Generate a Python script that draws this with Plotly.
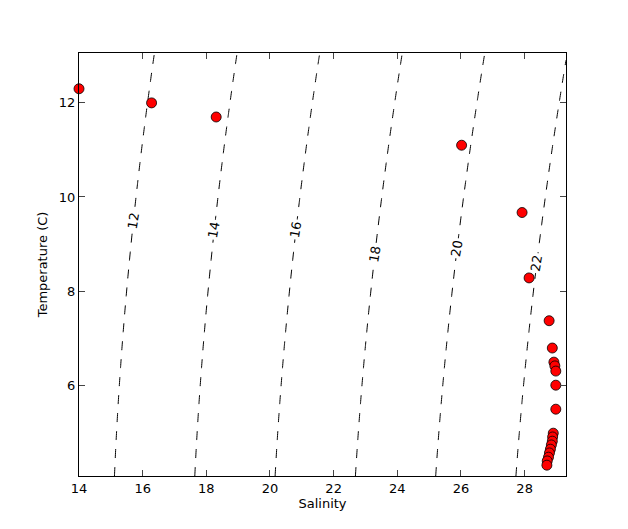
import numpy as np
import plotly.graph_objects as go

# observed profile
salinity = [14.0, 16.28, 18.31, 26.02, 27.92, 28.14, 28.77, 28.87, 28.92, 28.95, 28.98,
            28.98, 28.98, 28.9, 28.88, 28.87, 28.84, 28.81, 28.78, 28.75, 28.71, 28.7]
temperature = [12.3, 12.0, 11.7, 11.1, 9.67, 8.28, 7.37, 6.79, 6.49, 6.41, 6.3,
               6.0, 5.49, 4.98, 4.9, 4.81, 4.73, 4.64, 4.56, 4.47, 4.39, 4.3]
sigma_levels = [12, 14, 16, 18, 20, 22]
label_temps = [9.5, 9.3, 9.3, 8.8, 8.9, 8.6]


def sigma_t(S, T):
    # UNESCO 1980 density at surface pressure, minus 1000
    rw = (999.842594 + 6.793952e-2*T - 9.095290e-3*T**2 + 1.001685e-4*T**3
          - 1.120083e-6*T**4 + 6.536332e-9*T**5)
    A = 8.24493e-1 - 4.0899e-3*T + 7.6438e-5*T**2 - 8.2467e-7*T**3 + 5.3875e-9*T**4
    B = -5.72466e-3 + 1.0227e-4*T - 1.6546e-6*T**2
    C = 4.8314e-4
    return rw + A*S + B*S**1.5 + C*S**2 - 1000


def salinity_for(sigma, T):
    lo, hi = 0.0, 40.0
    for _ in range(60):
        mid = (lo + hi) / 2
        if sigma_t(mid, T) < sigma:
            lo = mid
        else:
            hi = mid
    return (lo + hi) / 2


s_grid = np.linspace(14, 29.3, 200)
t_grid = np.linspace(4.07, 13.06, 200)
SS, TT = np.meshgrid(s_grid, t_grid)
sig = sigma_t(SS, TT)

fig = go.Figure()
fig.add_trace(go.Contour(
    x=s_grid, y=t_grid, z=sig,
    contours=dict(start=min(sigma_levels), end=max(sigma_levels), size=2,
                  coloring="none", showlabels=False),
    line=dict(color="black", dash="dash", width=1),
    showscale=False, hoverinfo="skip"))
fig.add_trace(go.Scatter(
    x=salinity, y=temperature, mode="markers",
    marker=dict(color="red", size=10, line=dict(color="black", width=0.8)),
    cliponaxis=False))

for lev, tl in zip(sigma_levels, label_temps):
    fig.add_annotation(x=salinity_for(lev, tl), y=tl, text=str(lev), showarrow=False,
                       textangle=-80, bgcolor="white", borderpad=1,
                       font=dict(size=13, color="black"))

axis = dict(showgrid=False, zeroline=False, ticks="inside", ticklen=6,
            showline=True, linecolor="black", mirror="ticks",
            tickfont=dict(size=13, color="black"), automargin=False)
fig.update_layout(
    width=628, height=529, showlegend=False,
    paper_bgcolor="white", plot_bgcolor="white",
    font=dict(family="DejaVu Sans", color="black"),
    margin=dict(l=71, r=70, t=45, b=61),
    xaxis=dict(axis, range=[14, 29.3], dtick=2,
               title=dict(text="Salinity", font=dict(size=13), standoff=4)),
    yaxis=dict(axis, range=[4.07, 13.06], dtick=2,
               title=dict(text="Temperature (C)", font=dict(size=13), standoff=8)),
)
fig.write_html("out.html")
